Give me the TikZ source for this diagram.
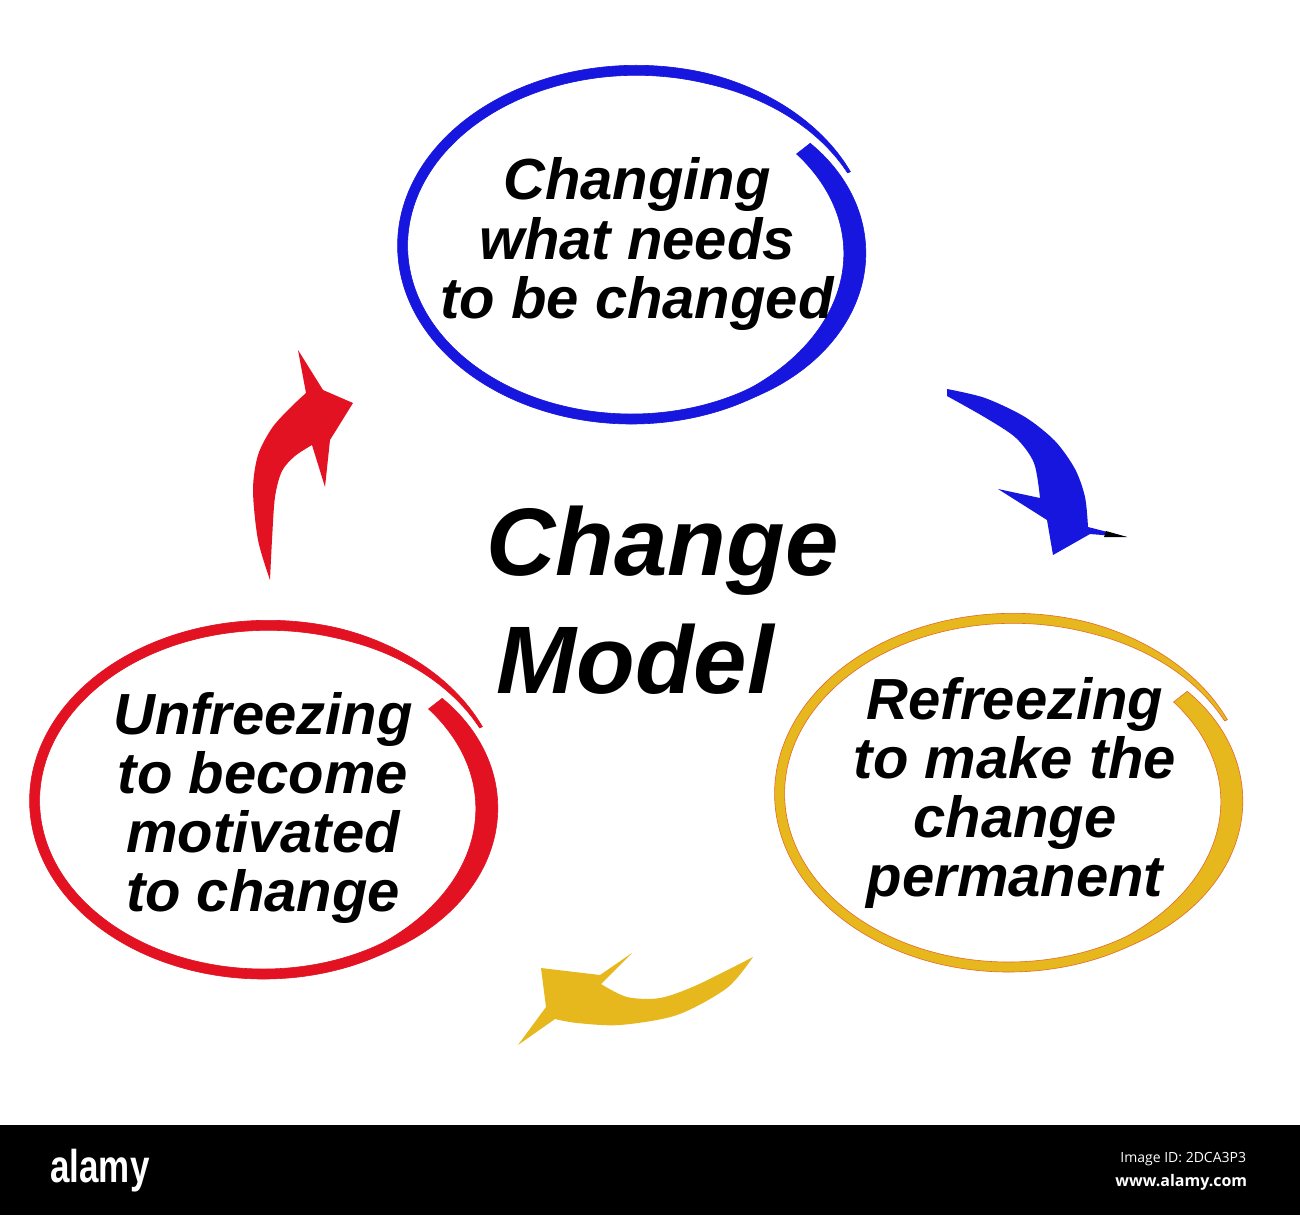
\documentclass[tikz,border=0pt]{standalone}
\usepackage{fontspec}
\setmainfont{Liberation Sans}
\newfontfamily\opensans{Open Sans}
\usepackage{tikz}
\usetikzlibrary{positioning}

\definecolor{ringblue}{RGB}{22,22,222}
\definecolor{ringred}{RGB}{227,18,35}
\definecolor{ringyel}{RGB}{231,184,30}
\definecolor{ringedge}{RGB}{228,105,40}

\begin{document}
\begin{tikzpicture}[
      x=0.5pt,y=-0.5pt,
      declare function={sr(\t)=(\t-25)/373;
        fr(\t)=1.04-0.1*sr(\t)*sr(\t)*sr(\t);
        wr(\t)=3+7*min(1,8*sr(\t))+12*max(0,1-(sr(\t)-0.9)*(sr(\t)-0.9)/0.0256);},
      stagetxt/.style={font=\fontsize{29}{29.5}\selectfont\bfseries\itshape,align=center,inner sep=0pt},
      title/.style={font=\fontsize{48}{59}\selectfont\bfseries\itshape,inner sep=0pt,anchor=base west},
      swoosh/.style={line join=round}
    ]
      \useasboundingbox (0,0) rectangle (1300,1215);
      \fill[white] (0,0) rectangle (1300,1215);

      % Hand drawn rings
      \foreach \cx/\cy/\col/\edge in {636/247/ringblue/ringblue,268/802/ringred/ringred,1013/795/ringyel/ringedge}{
        \filldraw[fill=\col,draw=\edge,line width=0.3pt]
          plot[domain=25:398,samples=110,smooth,variable=\t]
            ({\cx+(226*fr(\t)+wr(\t)/2)*cos(\t)},{\cy-(170*fr(\t)+wr(\t)/2)*sin(\t)})
          -- plot[domain=398:25,samples=110,smooth,variable=\t]
            ({\cx+(226*fr(\t)-wr(\t)/2)*cos(\t)},{\cy-(170*fr(\t)-wr(\t)/2)*sin(\t)})
          -- cycle;
      }

      % Stages
      \node[stagetxt] (change) at (637,244) {Changing\\what needs\\to be changed};
      \node[stagetxt] (unfreeze) at (263,808) {Unfreezing\\to become\\motivated\\to change};
      \node[stagetxt] (refreeze) at (1015,793) {Refreezing\\to make the\\change\\permanent};

      % Title
      \node[title] (chg) at (486,575) {Change};
      \node[title] (mdl) at (496,693) {Model};

      % Arrows between stages
      \fill[ringblue,swoosh] plot[smooth] coordinates {(947,389) (985,398) (1025,417) (1055,441) (1075,469) (1085,497) (1088,527)}
        -- (1127,537) -- (1090,534) -- (1053,555) -- (1047,520) -- (998,489)
        -- plot[smooth] coordinates {(1040,498) (1034,463) (1016,438) (986,418) (947,396)} -- cycle;
      \fill[black] (1106,531) -- (1127,537) -- (1104,537) -- cycle;
      \fill[ringyel,swoosh] plot[smooth] coordinates {(753,957) (727,988) (677,1015) (620,1025) (577,1023) (555,1019)}
        -- (518,1045) -- (546,1007) -- (541,968) -- (600,975) -- (632,953)
        -- plot[smooth] coordinates {(601,984) (627,997) (660,998) (697,985) (753,957)} -- cycle;
      \fill[ringred,swoosh] plot[smooth] coordinates {(270,580) (258,540) (253,490) (258,455) (272,428) (290,408) (306,393)}
        -- (298,350) -- (323,390) -- (353,403) -- (330,440) -- (325,487)
        -- plot[smooth] coordinates {(312,445) (295,456) (282,471) (275,497) (272,540) (270,580)} -- cycle;

      % Stock bar
      \fill[black] (0,1125) rectangle (1300,1215);
      \node[text=white,font=\fontsize{23}{23}\selectfont\bfseries,inner sep=0pt,anchor=base west] (logo) at (50,1182) {\scalebox{0.76}[1]{alamy}};
      \node[text=white,font=\opensans\fontsize{7}{8}\selectfont,inner sep=0pt,anchor=base west] (imgid) at (1120,1162) {Image ID: 2DCA3P3};
      \node[text=white,font=\opensans\fontsize{8}{9}\selectfont\bfseries,inner sep=0pt,anchor=base west] (site) at (1115,1186) {www.alamy.com};
    \end{tikzpicture}
\end{document}
